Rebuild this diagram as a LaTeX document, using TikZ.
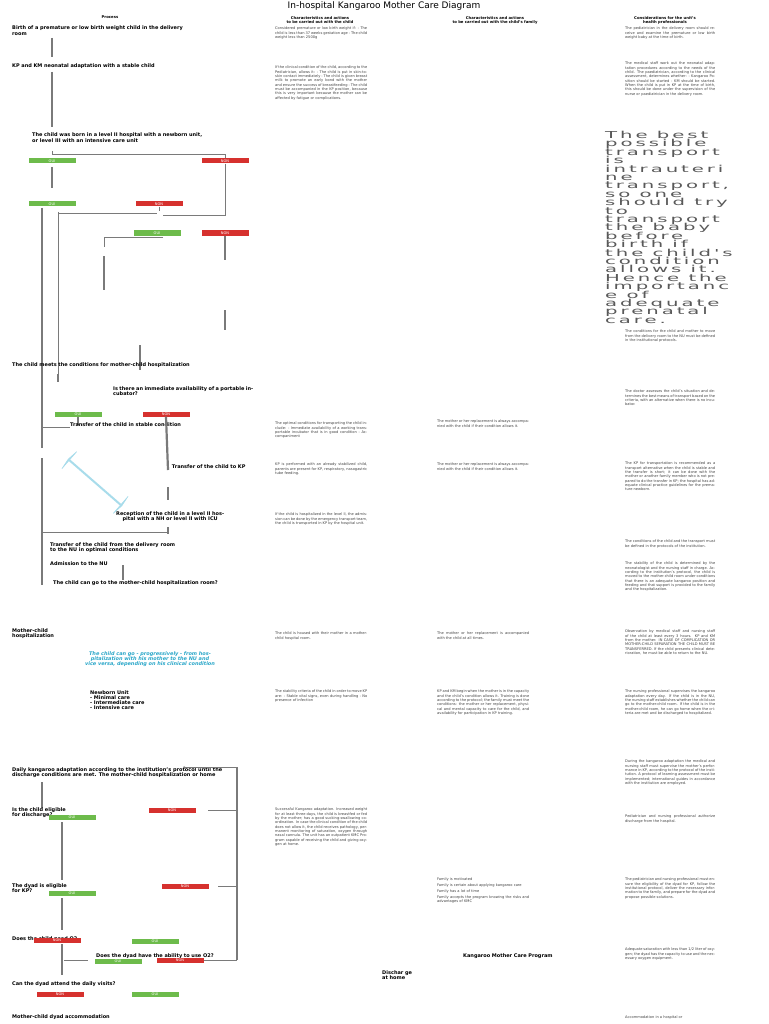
\documentclass[tikz,border=0pt]{standalone}
\usepackage{fontspec}
\usepackage{graphicx}
\setmainfont{DejaVu Sans}
\newfontfamily\bigfont{DejaVu Sans}[LetterSpace=15]
\usetikzlibrary{arrows.meta}
\definecolor{okg}{HTML}{6DBB4B}
\definecolor{nor}{HTML}{D6312E}
\definecolor{bar}{HTML}{7A7A7A}
\definecolor{cy}{HTML}{A8DCEB}
\definecolor{cytx}{HTML}{2AA7C9}
\tikzset{
 lab/.style={anchor=north west,font=\fontsize{5}{5.2}\selectfont\bfseries,align=left,inner sep=0pt,text width=#1},
 lab/.default=120pt,
 note/.style={anchor=north west,font=\fontsize{3.6}{4.3}\selectfont,text=black!75,align=justify,inner sep=0pt,text width=#1},
 note/.default=92pt,
 hdr/.style={anchor=north,font=\fontsize{3.8}{4}\selectfont\bfseries,align=center,inner sep=0pt},
 oui/.style={fill=okg,text=white,minimum width=47pt,minimum height=5pt,inner sep=0pt,font=\fontsize{3.6}{4}\selectfont},
 non/.style={fill=nor,text=white,minimum width=47pt,minimum height=5pt,inner sep=0pt,font=\fontsize{3.6}{4}\selectfont},
 thk/.style={bar,line width=2.2pt},
 thn/.style={bar,line width=0.8pt},
}
\begin{document}
\begin{tikzpicture}[x=1pt,y=-1pt]
\useasboundingbox[fill=white] (0,0) rectangle (768,1024);
\node[font=\fontsize{9}{10}\selectfont] (title) at (384,6) {In-hospital Kangaroo Mother Care Diagram};
\node[hdr] (h1) at (110,16) {Process};
\node[hdr] (h2) at (320,16) {Characteristics and actions\\to be carried out with the child};
\node[hdr] (h3) at (495,16) {Characteristics and actions\\to be carried out with the child's family};
\node[hdr] (h4) at (665,16) {Considerations for the unit's\\health professionals};

% left process
\node[lab=180pt] (p1) at (12,26) {Birth of a premature or low birth weight child in the delivery room};
\draw[thk] (52,38) -- (52,57);
\node[lab=180pt] (p2) at (12,64) {KP and KM neonatal adaptation with a stable child};
\draw[thk] (52,72) -- (52,127);
\node[lab=170pt,align=justify] (p3) at (32,133) {The child was born in a level II hospital with a newborn unit, or level III with an intensive care unit};
\node[oui] (o1) at (52,161) {OUI};
\node[non] (n1) at (225,161) {NON};
\draw[thn] (52,151) -- (52,154) -| (n1.north);
\draw[thk] (52,167) -- (52,188);
\node[oui] (o2) at (52,204) {OUI};
\node[non] (n2) at (159,204) {NON};
\draw[thn] (n1.south) -- (225,215) -- (163,215);
\draw[thn] (n2.south) -- (159,211);
\draw[thk] (42,208) -- (42,448);
\draw[thn] (58,212) -- (58,380);
\draw[thn] (58,213) -- (157,213);
\node[oui] (o3) at (157,233) {OUI};
\node[non] (n3) at (225,233) {NON};
\draw[thn] (163,237) -- (104,237) -- (104,247);
\draw[thk] (104,256) -- (104,290);
\draw[thk] (n3.south) -- (225,260);
\draw[thk] (225,310) -- (225,330);
\draw[thk] (140,345) -- (140,370);
\node[lab=190pt] (p4) at (12,362) {The child meets the conditions for mother-child hospitalization};
\draw[thk] (58,374) -- (58,382);
\node[lab=140pt,align=justify] (p5) at (113,386) {Is there an immediate availability of a portable incubator?};
\node[oui] (o4) at (78,414) {OUI};
\node[non] (n4) at (166,414) {NON};
\draw[thk] (o4.south) -- (78,425);
\node[lab=130pt] (p6) at (70,422) {Transfer of the child in stable condition};
\draw[thn] (42,427) -- (70,427);
\draw[thk] (n4.south) -- (168,470);
\draw[thk] (168,487) -- (168,500);
\node[lab=85pt,align=center] (p7) at (166,464) {Transfer of the child to KP};
\draw[line width=2pt,cy,{Triangle[width=30pt,length=2pt]}-{Triangle[width=30pt,length=2pt]}] (68,459) -- (122,506);
\draw[thk] (42,458) -- (42,585);
\node[lab=190pt,align=center] (p8) at (75,511) {Reception of the child in a level II hospital with a NH or level II with ICU};
\draw[thn] (42,532) -- (168,532);
\draw[thk] (168,527) -- (168,534);
\node[lab=125pt,align=justify] (p9) at (50,542) {Transfer of the child from the delivery room to the NU in optimal conditions};
\node[lab=120pt] (p10) at (50,561) {Admission to the NU};
\draw[thk] (123,565) -- (123,580);
\node[lab=200pt] (p11) at (53,580) {The child can go to the mother-child hospitalization room?};
\node[lab=100pt] (p12) at (12,628) {Mother-child\\hospitalization};
\node[anchor=north,font=\fontsize{5}{5.3}\selectfont\bfseries\itshape,text=cytx,align=center,text width=175pt,inner sep=0pt] (p13) at (150,651) {The child can go - progressively - from hospitalization with his mother to the NU and vice versa, depending on his clinical condition};
\node[lab=100pt] (p14) at (90,690) {Newborn Unit\\- Minimal care\\- Intermediate care\\- Intensive care};

\node[lab=210pt,align=justify] (p15) at (12,767) {Daily kangaroo adaptation according to the institution's protocol until the discharge conditions are met. The mother-child hospitalization or home};
\draw[thk] (42,782) -- (42,808);
\node[lab=120pt] (p16) at (12,807) {Is the child eligible\\for discharge?};
\node[oui] (o5) at (72,817) {OUI};
\node[non] (n5) at (172,810) {NON};
\draw[thk] (237,767) -- (237,960);
\draw[thn,-{Stealth[length=2pt]}] (237,767) -- (183,767);
\draw[thn] (208,810) -- (237,810);
\draw[thk] (62,822) -- (62,880);
\node[lab=120pt] (p17) at (12,883) {The dyad is eligible\\for KP?};
\node[oui] (o6) at (72,893) {OUI};
\node[non] (n6) at (185,886) {NON};
\draw[thn] (218,886) -- (237,886);
\draw[thk] (62,898) -- (62,930);
\node[lab=150pt] (p18) at (12,936) {Does the child need O2};
\node[non] (n7) at (57,940) {NON};
\node[oui] (o7) at (155,941) {OUI};
\draw[thk] (62,944) -- (62,975);
\draw[thn] (64,960) -- (88,960);
\node[lab=130pt] (p19) at (96,953) {Does the dyad have the ability to use O2?};
\node[oui] (o8) at (118,961) {OUI};
\node[non] (n8) at (180,960) {NON};
\draw[thn] (n8.east) -- (237,960);
\node[lab=220pt] (p20) at (12,981) {Can the dyad attend the daily visits?};
\node[non] (n9) at (60,994) {NON};
\node[oui] (o9) at (155,994) {OUI};
\node[lab=200pt] (p21) at (12,1014) {Mother-child dyad accommodation};
\node[lab=30pt] (p22) at (382,970) {Dischar ge at home};
\node[lab=100pt] (p23) at (463,953) {Kangaroo Mother Care Program};

% column 2
\node[note] (c2a) at (275,27) {Considered premature or low birth weight if: - The child is less than 37 weeks gestation age - The child weight less than 2500g};
\node[note] (c2b) at (275,66) {If the clinical condition of the child, according to the Pediatrician, allows it: - The child is put in skin-to-skin contact immediately - The child is given breast milk to promote an early bond with the mother and ensure the success of breastfeeding - The child must be accompanied in the KP position, because this is very important because the mother can be affected by fatigue or complications.};
\node[note] (c2c) at (275,422) {The optimal conditions for transporting the child include: - Immediate availability of a working transportable incubator that is in good condition - Accompaniment};
\node[note] (c2d) at (275,463) {KP is performed with an already stabilized child, parents are present for KP, respiratory, nasogastric tube feeding.};
\node[note] (c2e) at (275,513) {If the child is hospitalized in the level II, the admission can be done by the emergency transport team, the child is transported in KP by the hospital unit.};
\node[note] (c2f) at (275,632) {The child is housed with their mother in a mother-child hospital room.};
\node[note] (c2g) at (275,690) {The stability criteria of the child in order to move KP are: - Stable vital signs, even during handling - No presence of infection};
\node[note] (c2h) at (275,808) {Successful Kangaroo adaptation. Increased weight for at least three days, the child is breastfed or fed by the mother; has a good sucking-swallowing coordination. In case the clinical condition of the child does not allow it, the child receives pathology, permanent monitoring of saturation, oxygen through nasal cannula. The unit has an outpatient KMC Program capable of receiving the child and giving oxygen at home.};

% column 3
\node[note] (c3a) at (437,420) {The mother or her replacement is always accompanied with the child if their condition allows it.};
\node[note] (c3b) at (437,463) {The mother or her replacement is always accompanied with the child if their condition allows it.};
\node[note] (c3c) at (437,632) {The mother or her replacement is accompanied with the child at all times.};
\node[note] (c3d) at (437,690) {KP and KM begin when the mother is in the capacity and the child's condition allows it. Training is done according to the protocol; the family must meet the conditions: the mother or her replacement, physical and mental capacity to care for the child, and availability for participation in KP training.};
\node[note] (c3e) at (437,878) {Family is motivated\\[1.5pt] Family is certain about applying kangaroo care\\[1.5pt] Family has a lot of time\\[1.5pt] Family accepts the program knowing the risks and advantages of KMC};

% column 4
\node[note=90pt] (c4a) at (625,27) {The pediatrician in the delivery room should receive and examine the premature or low birth weight baby at the time of birth.};
\node[note=90pt] (c4b) at (625,62) {The medical staff work out the neonatal adaptation procedures according to the needs of the child. The paediatrician, according to the clinical assessment, determines whether: - Kangaroo Position should be started - KM should be started. When the child is put in KP at the time of birth, this should be done under the supervision of the nurse or paediatrician in the delivery room.};
\node[anchor=north west,text=black!65,inner sep=0pt] (big) at (605,131) {\scalebox{2.05}[1]{\parbox[t]{70pt}{\raggedright\bigfont\fontsize{9.6}{8.4}\selectfont\lineskiplimit=-20pt\lineskip=0pt The best\\possible\\transport\\is\\intrauteri\\ne\\transport,\\so one\\should try\\to\\transport\\the baby\\before\\birth if\\the child's\\condition\\allows it.\\Hence the\\importanc\\e of\\adequate\\prenatal\\care.}}};
\node[note=90pt] (c4c) at (625,330) {The conditions for the child and mother to move from the delivery room to the NU must be defined in the institutional protocols.};
\node[note=90pt] (c4d) at (625,390) {The doctor assesses the child's situation and determines the best means of transport based on the criteria, with an alternative when there is no incubator.};
\node[note=90pt] (c4e) at (625,462) {The KP for transportation is recommended as a transport alternative when the child is stable and the transfer is short; it can be done with the mother or another family member who is not prepared to do the transfer in KP; the hospital has adequate clinical practice guidelines for the premature newborn.};
\node[note=90pt] (c4f) at (625,540) {The conditions of the child and the transport must be defined in the protocols of the institution.};
\node[note=90pt] (c4g) at (625,562) {The stability of the child is determined by the neonatologist and the nursing staff in charge. According to the institution's protocol, the child is moved to the mother-child room under conditions that there is an adequate kangaroo position and feeding and that support is provided to the family and the hospitalization.};
\node[note=90pt] (c4h) at (625,630) {Observation by medical staff and nursing staff of the child at least every 3 hours. KP and KM from the mother. IN CASE OF COMPLICATION OR MOTHER-CHILD SEPARATION THE CHILD MUST BE TRANSFERRED. If the child presents clinical deterioration, he must be able to return to the NU.};
\node[note=90pt] (c4i) at (625,690) {The nursing professional supervises the kangaroo adaptation every day. If the child is in the NU, the nursing staff establishes whether the child can go to the mother-child room. If the child is in the mother-child room, he can go home when the criteria are met and be discharged to hospitalized.};
\node[note=90pt] (c4j) at (625,760) {During the kangaroo adaptation the medical and nursing staff must supervise the mother's performance in KP, according to the protocol of the institution. A protocol of learning assessment must be implemented; international guides in accordance with the institution are employed.};
\node[note=90pt] (c4k) at (625,815) {Pediatrician and nursing professional authorize discharge from the hospital.};
\node[note=90pt] (c4l) at (625,878) {The pediatrician and nursing professional must ensure the eligibility of the dyad for KP, follow the institutional protocol, deliver the necessary information to the family, and prepare for the dyad and propose possible solutions.};
\node[note=90pt] (c4m) at (625,948) {Adequate saturation with less than 1/2 liter of oxygen; the dyad has the capacity to use and the necessary oxygen equipment.};
\node[note=90pt] (c4n) at (625,1016) {Accommodation in a hospital or};
\end{tikzpicture}
\end{document}
